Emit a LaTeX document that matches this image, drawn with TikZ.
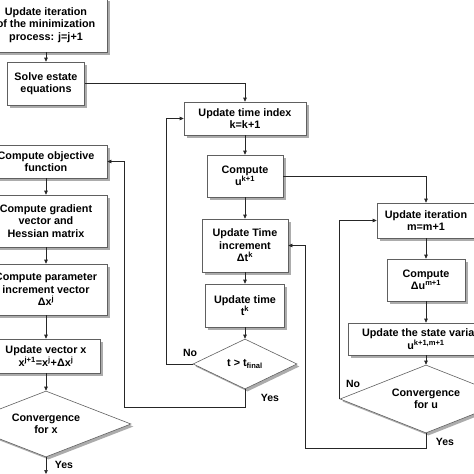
\documentclass[tikz,border=0pt]{standalone}
\usepackage{fontspec}
\setmainfont{Liberation Sans}
\usetikzlibrary{shapes.geometric,shadows,arrows.meta}
\tikzstyle{block}=[rectangle,draw=gray!75!black,fill=white,line width=0.6pt,align=center,inner sep=1pt,
  drop shadow={shadow xshift=2.5pt,shadow yshift=-2.5pt,fill=gray!65,opacity=1}]
\tikzstyle{decision}=[diamond,draw=gray!75!black,fill=white,line width=0.6pt,align=center,inner sep=0pt,shape aspect=2.5,
  drop shadow={shadow xshift=2.5pt,shadow yshift=-2.5pt,fill=gray!65,opacity=1}]
\tikzstyle{line}=[draw=gray!30!black,line width=0.6pt]
\tikzstyle{arrow}=[line,-{Triangle[length=4pt,width=3.5pt]}]
\tikzstyle{answer}=[inner sep=0pt,font=\fontsize{10.5}{12}\selectfont\bfseries]

\begin{document}
\begin{tikzpicture}[x=1pt,y=-1pt,font=\fontsize{10.8}{12.5}\selectfont\bfseries]
  \useasboundingbox (0,0) rectangle (474,474);
  \clip (0,0) rectangle (474,474);
  \def\xl{46}
  \def\xm{245}
  \def\xr{426}

  % left column
  \node[block,minimum width=122,minimum height=54] (iter j) at (\xl,25)
    {Update iteration\\of the minimization\\process: j=j+1};
  \node[block,minimum width=77,minimum height=43] (solve) at (\xl,83.5)
    {Solve estate\\equations};
  \node[block,minimum width=122,minimum height=33] (objective) at (\xl,161.5)
    {Compute objective\\function};
  \node[block,minimum width=122,minimum height=52] (gradient) at (\xl,221)
    {Compute gradient\\vector and\\Hessian matrix};
  \node[block,minimum width=122,minimum height=51] (increment x) at (\xl,289.5)
    {Compute parameter\\increment vector\\Δx\textsuperscript{j}};
  \node[block,minimum width=108,minimum height=34] (update x) at (\xl,356)
    {Update vector x\\x\textsuperscript{j+1}=x\textsuperscript{j}+Δx\textsuperscript{j}};
  \node[decision,minimum width=170,minimum height=66] (conv x) at (\xl,424)
    {Convergence\\for x};

  % middle column
  \node[block,minimum width=122,minimum height=33] (time index) at (\xm,118.5)
    {Update time index\\k=k+1};
  \node[block,minimum width=76,minimum height=42] (compute u) at (\xm,176)
    {Compute\\u\textsuperscript{k+1}};
  \node[block,minimum width=86,minimum height=53] (time step) at (\xm,245.5)
    {Update Time\\increment\\Δt\textsuperscript{k}};
  \node[block,minimum width=79,minimum height=43] (update t) at (\xm,305.5)
    {Update time\\t\textsuperscript{k}};
  \node[decision,minimum width=104,minimum height=50,shape aspect=2] (t final) at (\xm,364)
    {t > t\textsubscript{final}};

  % right column
  \node[block,minimum width=98,minimum height=35] (iter m) at (\xr,220.5)
    {Update iteration\\m=m+1};
  \node[block,minimum width=78,minimum height=42] (delta u) at (\xr,280)
    {Compute\\Δu\textsuperscript{m+1}};
  \node[block,minimum width=156,minimum height=32] (state u) at (\xr,339)
    {Update the state variable\\u\textsuperscript{k+1,m+1}};
  \node[decision,minimum width=172,minimum height=68] (conv u) at (\xr,399)
    {Convergence\\for u};

  \foreach \a/\b in {iter j/solve, objective/gradient, gradient/increment x,
    increment x/update x, update x/conv x, time index/compute u,
    compute u/time step, time step/update t, update t/t final,
    iter m/delta u, delta u/state u, state u/conv u}
    \draw[arrow] (\a) -- (\b);

  \draw[arrow] (solve.east) -| (time index.north);
  \draw[arrow] (compute u.east) -| (iter m.north);
  \draw[arrow] (t final.west) -- ++(-26,0) |- (time index.west);
  \draw[arrow] (t final.south) -- ++(0,18) -- ++(-121,0) |- (objective.east);
  \draw[arrow] (conv u.west) |- (iter m.west);
  \draw[arrow] (conv u.south) -- ++(0,15) -- ++(-121,0) |- (time step.east);
  \coordinate (x out) at (\xl,474);
  \draw[arrow] (conv x.south) -- (x out);

  \node[answer] (no t) at (190,353) {No};
  \node[answer] (yes t) at (270,398) {Yes};
  \node[answer] (no u) at (353,384) {No};
  \node[answer] (yes u) at (445,442) {Yes};
  \node[answer] (yes x) at (64,465) {Yes};
\end{tikzpicture}
\end{document}
